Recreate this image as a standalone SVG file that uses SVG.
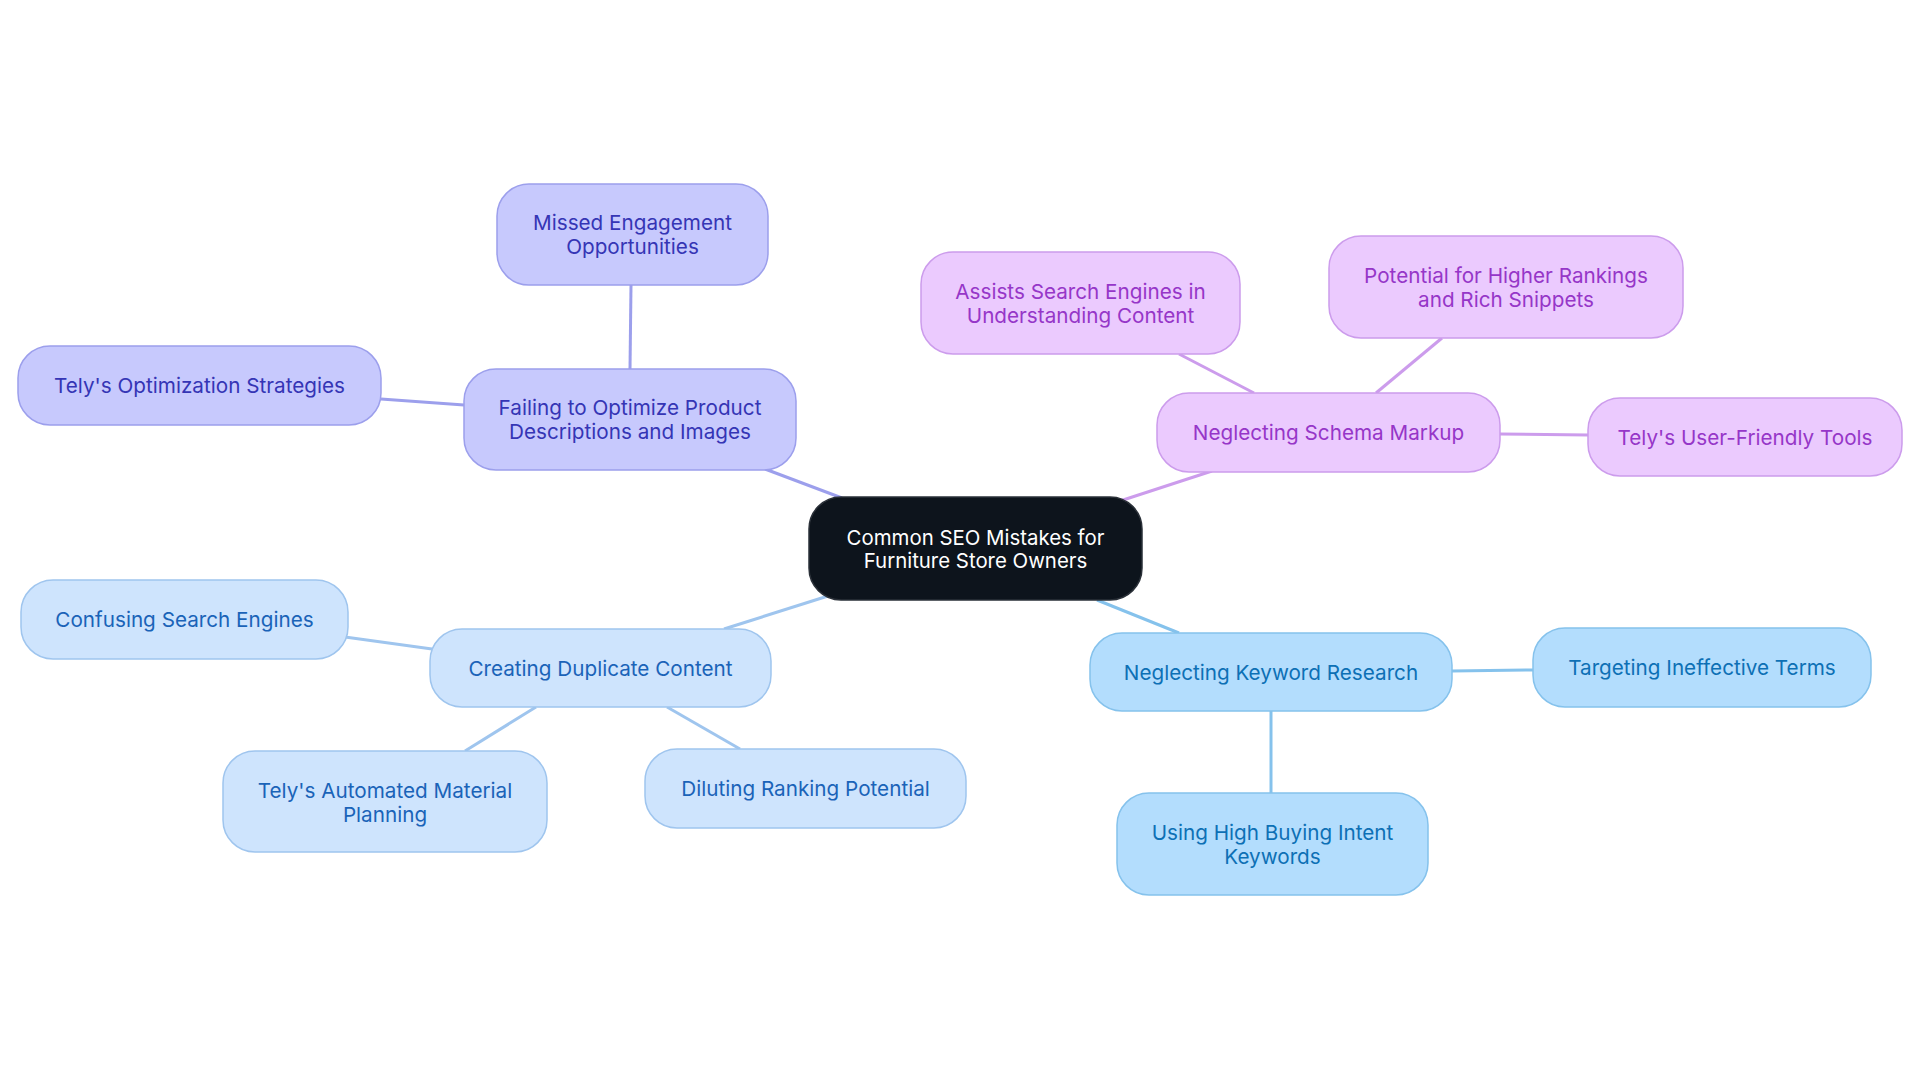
<svg xmlns="http://www.w3.org/2000/svg" width="1920" height="1083" viewBox="0 0 1920 1083">
<style>
text{font-family:Inter,"Noto Sans","Liberation Sans",sans-serif;font-size:20.7px;text-anchor:middle;dominant-baseline:central}
.c rect{fill:#0d141c;stroke:#2a3038;stroke-width:1.5}
.c text{fill:#ffffff;font-size:20.4px}
.l rect{fill:#c7c9fd;stroke:#9c9fec;stroke-width:1.5}
.l text{fill:#3535b5}
.p rect{fill:#ebcafe;stroke:#cc9cec;stroke-width:1.5}
.p text{fill:#9636c8}
.b rect{fill:#cee4fd;stroke:#9fc5ee;stroke-width:1.5}
.b text{fill:#1a63b8}
.k rect{fill:#b3ddfd;stroke:#85c2ec;stroke-width:1.5}
.k text{fill:#0d70b5}
#connectors line{stroke-width:3;fill:none}
.el{stroke:#9c9fec}.ep{stroke:#cc9cec}.eb{stroke:#9fc5ee}.ek{stroke:#85c2ec}
</style>
<rect width="1920" height="1083" fill="#ffffff"/>
<g id="connectors">
<line class="el" x1="842" y1="498" x2="765" y2="469"/>
<line class="ep" x1="1120" y1="501" x2="1212" y2="471"/>
<line class="eb" x1="828" y1="596" x2="724" y2="629"/>
<line class="ek" x1="1097" y1="600" x2="1179" y2="633"/>
<line class="el" x1="631" y1="285" x2="630" y2="369"/>
<line class="el" x1="381" y1="399" x2="464" y2="405"/>
<line class="ep" x1="1179" y1="354" x2="1254" y2="393"/>
<line class="ep" x1="1442" y1="338" x2="1376" y2="393"/>
<line class="ep" x1="1500" y1="434" x2="1588" y2="435"/>
<line class="eb" x1="345" y1="637" x2="432" y2="649"/>
<line class="eb" x1="536" y1="707" x2="465" y2="751"/>
<line class="eb" x1="667" y1="707" x2="740" y2="749"/>
<line class="ek" x1="1452" y1="671" x2="1533" y2="670"/>
<line class="ek" x1="1271" y1="711" x2="1271" y2="793"/>
</g>
<g id="center" class="c">
<rect x="809" y="497" width="333" height="103" rx="32"/>
<text x="975.5" y="537">Common SEO Mistakes for</text>
<text x="975.5" y="560">Furniture Store Owners</text>
</g>
<g id="n-failing" class="l">
<rect x="464" y="369" width="332" height="101" rx="32"/>
<text x="630" y="407">Failing to Optimize Product</text>
<text x="630" y="431">Descriptions and Images</text>
</g>
<g id="n-missed" class="l">
<rect x="497" y="184" width="271" height="101" rx="32"/>
<text x="632.5" y="222">Missed Engagement</text>
<text x="632.5" y="246">Opportunities</text>
</g>
<g id="n-telyopt" class="l">
<rect x="18" y="346" width="363" height="79" rx="32"/>
<text x="199.5" y="385">Tely's Optimization Strategies</text>
</g>
<g id="n-schema" class="p">
<rect x="1157" y="393" width="343" height="79" rx="32"/>
<text x="1328.5" y="432">Neglecting Schema Markup</text>
</g>
<g id="n-assists" class="p">
<rect x="921" y="252" width="319" height="102" rx="32"/>
<text x="1080.5" y="291">Assists Search Engines in</text>
<text x="1080.5" y="315">Understanding Content</text>
</g>
<g id="n-potential" class="p">
<rect x="1329" y="236" width="354" height="102" rx="32"/>
<text x="1506" y="275">Potential for Higher Rankings</text>
<text x="1506" y="299">and Rich Snippets</text>
</g>
<g id="n-telyuf" class="p">
<rect x="1588" y="398" width="314" height="78" rx="32"/>
<text x="1745" y="437">Tely's User-Friendly Tools</text>
</g>
<g id="n-duplicate" class="b">
<rect x="430" y="629" width="341" height="78" rx="32"/>
<text x="600.5" y="668">Creating Duplicate Content</text>
</g>
<g id="n-confusing" class="b">
<rect x="21" y="580" width="327" height="79" rx="32"/>
<text x="184.5" y="619">Confusing Search Engines</text>
</g>
<g id="n-automated" class="b">
<rect x="223" y="751" width="324" height="101" rx="32"/>
<text x="385" y="790">Tely's Automated Material</text>
<text x="385" y="814">Planning</text>
</g>
<g id="n-diluting" class="b">
<rect x="645" y="749" width="321" height="79" rx="32"/>
<text x="805.5" y="788">Diluting Ranking Potential</text>
</g>
<g id="n-keyword" class="k">
<rect x="1090" y="633" width="362" height="78" rx="32"/>
<text x="1271" y="672">Neglecting Keyword Research</text>
</g>
<g id="n-targeting" class="k">
<rect x="1533" y="628" width="338" height="79" rx="32"/>
<text x="1702" y="667">Targeting Ineffective Terms</text>
</g>
<g id="n-using" class="k">
<rect x="1117" y="793" width="311" height="102" rx="32"/>
<text x="1272.5" y="832">Using High Buying Intent</text>
<text x="1272.5" y="856">Keywords</text>
</g>
</svg>
